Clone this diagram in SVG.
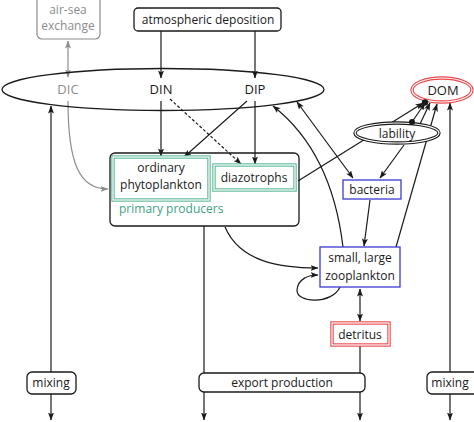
<svg xmlns="http://www.w3.org/2000/svg" width="474" height="422" viewBox="0 0 474 422">
<defs>
<marker id="ah" viewBox="0 0 8 6" refX="7.5" refY="3" markerWidth="8" markerHeight="6" markerUnits="userSpaceOnUse" orient="auto-start-reverse"><path d="M0,0 L8,3 L0,6 L1.8,3 z" fill="#1a1a1a"/></marker>
<marker id="ahg" viewBox="0 0 8 6" refX="7.5" refY="3" markerWidth="8" markerHeight="6" markerUnits="userSpaceOnUse" orient="auto-start-reverse"><path d="M0,0 L8,3 L0,6 L1.8,3 z" fill="#8c8c8c"/></marker>
</defs>
<style>
text{font-family:"Open Sans","DejaVu Sans",sans-serif;font-size:12px;fill:#1a1a1a;text-anchor:middle}
.big{font-size:13px}
.gray{fill:#8c8c8c}
.green{fill:#3f9f82}
.ln{fill:none;stroke:#1a1a1a;stroke-width:1.2}
.arr{marker-end:url(#ah)}
.dbl{marker-start:url(#ah);marker-end:url(#ah)}
.box{fill:#fff;stroke:#1a1a1a;stroke-width:1.3}
.gbox{fill:#fff;stroke:#8c8c8c;stroke-width:1.2}
.dg{fill:none;stroke:#5cb896;stroke-width:3.4}
.dr{fill:none;stroke:#e8474a;stroke-width:3.4}
.dk{fill:none;stroke:#1a1a1a;stroke-width:3.4}
.inner{fill:none;stroke:#fff;stroke-width:1.2}
.blue{fill:#fff;stroke:#3b3bd0;stroke-width:1.3}
</style>
<g id="producers">
<rect x="110" y="153" width="189" height="73" rx="5" fill="none" stroke="#1a1a1a" stroke-width="1.3"/>
<text class="green" x="119" y="213" style="text-anchor:start">primary producers</text>
</g>
<g id="connectors">
<line class="ln arr" x1="161" y1="31" x2="161" y2="78"/>
<line class="ln arr" x1="255" y1="31" x2="255" y2="78"/>
<line x1="68" y1="41" x2="68" y2="77" fill="none" stroke="#8c8c8c" stroke-width="1.2" marker-start="url(#ahg)" marker-end="url(#ahg)"/>
<path d="M68,101 C68,165 80,189 108,189" fill="none" stroke="#8c8c8c" stroke-width="1.2" marker-end="url(#ahg)"/>
<line class="ln arr" x1="161" y1="101" x2="161" y2="156"/>
<line class="ln arr" x1="170" y1="99" x2="241" y2="164" stroke-dasharray="3,2"/>
<line class="ln arr" x1="247" y1="101" x2="184" y2="157"/>
<line class="ln arr" x1="255" y1="101" x2="255" y2="164"/>
<line class="ln dbl" x1="51" y1="106" x2="51" y2="420"/>
<line class="ln dbl" x1="450" y1="103" x2="450" y2="420"/>
<line class="ln arr" x1="204" y1="226" x2="204" y2="420"/>
<line class="ln arr" x1="360" y1="345" x2="360" y2="420"/>
<line class="ln dbl" x1="297" y1="102" x2="353" y2="178"/>
<path class="ln arr" d="M343,247 C335,180 310,135 273,106"/>
<path class="ln arr" d="M225,227 C240,262 280,268 318,268"/>
<path class="ln arr" d="M340,287 C332,305 296,303 297,290 C298,279 308,275 318,275"/>
<line class="ln dbl" x1="360" y1="289" x2="360" y2="321"/>
<line class="ln arr" x1="370" y1="200" x2="364" y2="246"/>
<line class="ln arr" x1="298" y1="181" x2="423" y2="103"/>
<line class="ln arr" x1="396" y1="247" x2="437" y2="104"/>
<line class="ln arr" x1="404" y1="145" x2="380" y2="178"/>
<line class="ln arr" x1="420" y1="124" x2="430" y2="103"/>
<line class="ln arr" x1="412" y1="122" x2="425" y2="103"/>
</g>
<g id="ocean">
<ellipse cx="163" cy="89.5" rx="161" ry="21" fill="none" stroke="#1a1a1a" stroke-width="1.3"/>
<text class="big gray" x="68" y="94">DIC</text>
<text class="big" x="161" y="94">DIN</text>
<text class="big" x="255" y="94">DIP</text>
</g>
<g id="air-sea">
<rect class="gbox" x="37" y="-6" width="63" height="45" rx="5"/>
<text class="gray" x="68" y="14">air-sea</text>
<text class="gray" x="68" y="30">exchange</text>
</g>
<g id="atm">
<rect class="box" x="134" y="8" width="147" height="23" rx="4"/>
<text x="208" y="24">atmospheric deposition</text>
</g>
<g id="phyto">
<rect x="113" y="157" width="96" height="43" fill="#fff"/>
<rect class="dg" x="113" y="157" width="96" height="43"/>
<rect class="inner" x="113" y="157" width="96" height="43"/>
<text x="161" y="172">ordinary</text>
<text x="161" y="189">phytoplankton</text>
</g>
<g id="diazo">
<rect x="214" y="165" width="81" height="25" fill="#fff"/>
<rect class="dg" x="214" y="165" width="81" height="25"/>
<rect class="inner" x="214" y="165" width="81" height="25"/>
<text x="254" y="182">diazotrophs</text>
</g>
<g id="dom">
<ellipse cx="442" cy="90" rx="30" ry="12" fill="#fff"/>
<ellipse class="dr" cx="442" cy="90" rx="30" ry="12"/>
<ellipse class="inner" cx="442" cy="90" rx="30" ry="12"/>
<text class="big" x="443" y="95">DOM</text>
</g>
<g id="lability">
<ellipse cx="397" cy="133" rx="42" ry="10" fill="#fff"/>
<ellipse class="dk" cx="397" cy="133" rx="42" ry="10"/>
<ellipse class="inner" cx="397" cy="133" rx="42" ry="10"/>
<text x="397" y="138">lability</text>
<circle cx="412" cy="122" r="3" fill="#1a1a1a"/>
<circle cx="425" cy="102.5" r="3.2" fill="#1a1a1a"/>
</g>
<g id="bacteria">
<rect class="blue" x="343" y="180" width="58" height="19"/>
<text x="372" y="194">bacteria</text>
</g>
<g id="zooplankton">
<rect class="blue" x="320" y="247" width="80" height="40"/>
<text x="360" y="262">small, large</text>
<text x="360" y="280">zooplankton</text>
</g>
<g id="detritus">
<rect x="332" y="323" width="57" height="22" fill="#fff"/>
<rect class="dr" x="332" y="323" width="57" height="22"/>
<rect class="inner" x="332" y="323" width="57" height="22"/>
<text x="360" y="339">detritus</text>
</g>
<g id="mixing-left">
<rect class="box" x="27" y="372" width="49" height="22" rx="5"/>
<text x="51" y="387">mixing</text>
</g>
<g id="export">
<rect class="box" x="199" y="373" width="166" height="19" rx="5"/>
<text x="282" y="387">export production</text>
</g>
<g id="mixing-right">
<rect class="box" x="427" y="372" width="52" height="22" rx="5"/>
<text x="450" y="387">mixing</text>
</g>
</svg>
